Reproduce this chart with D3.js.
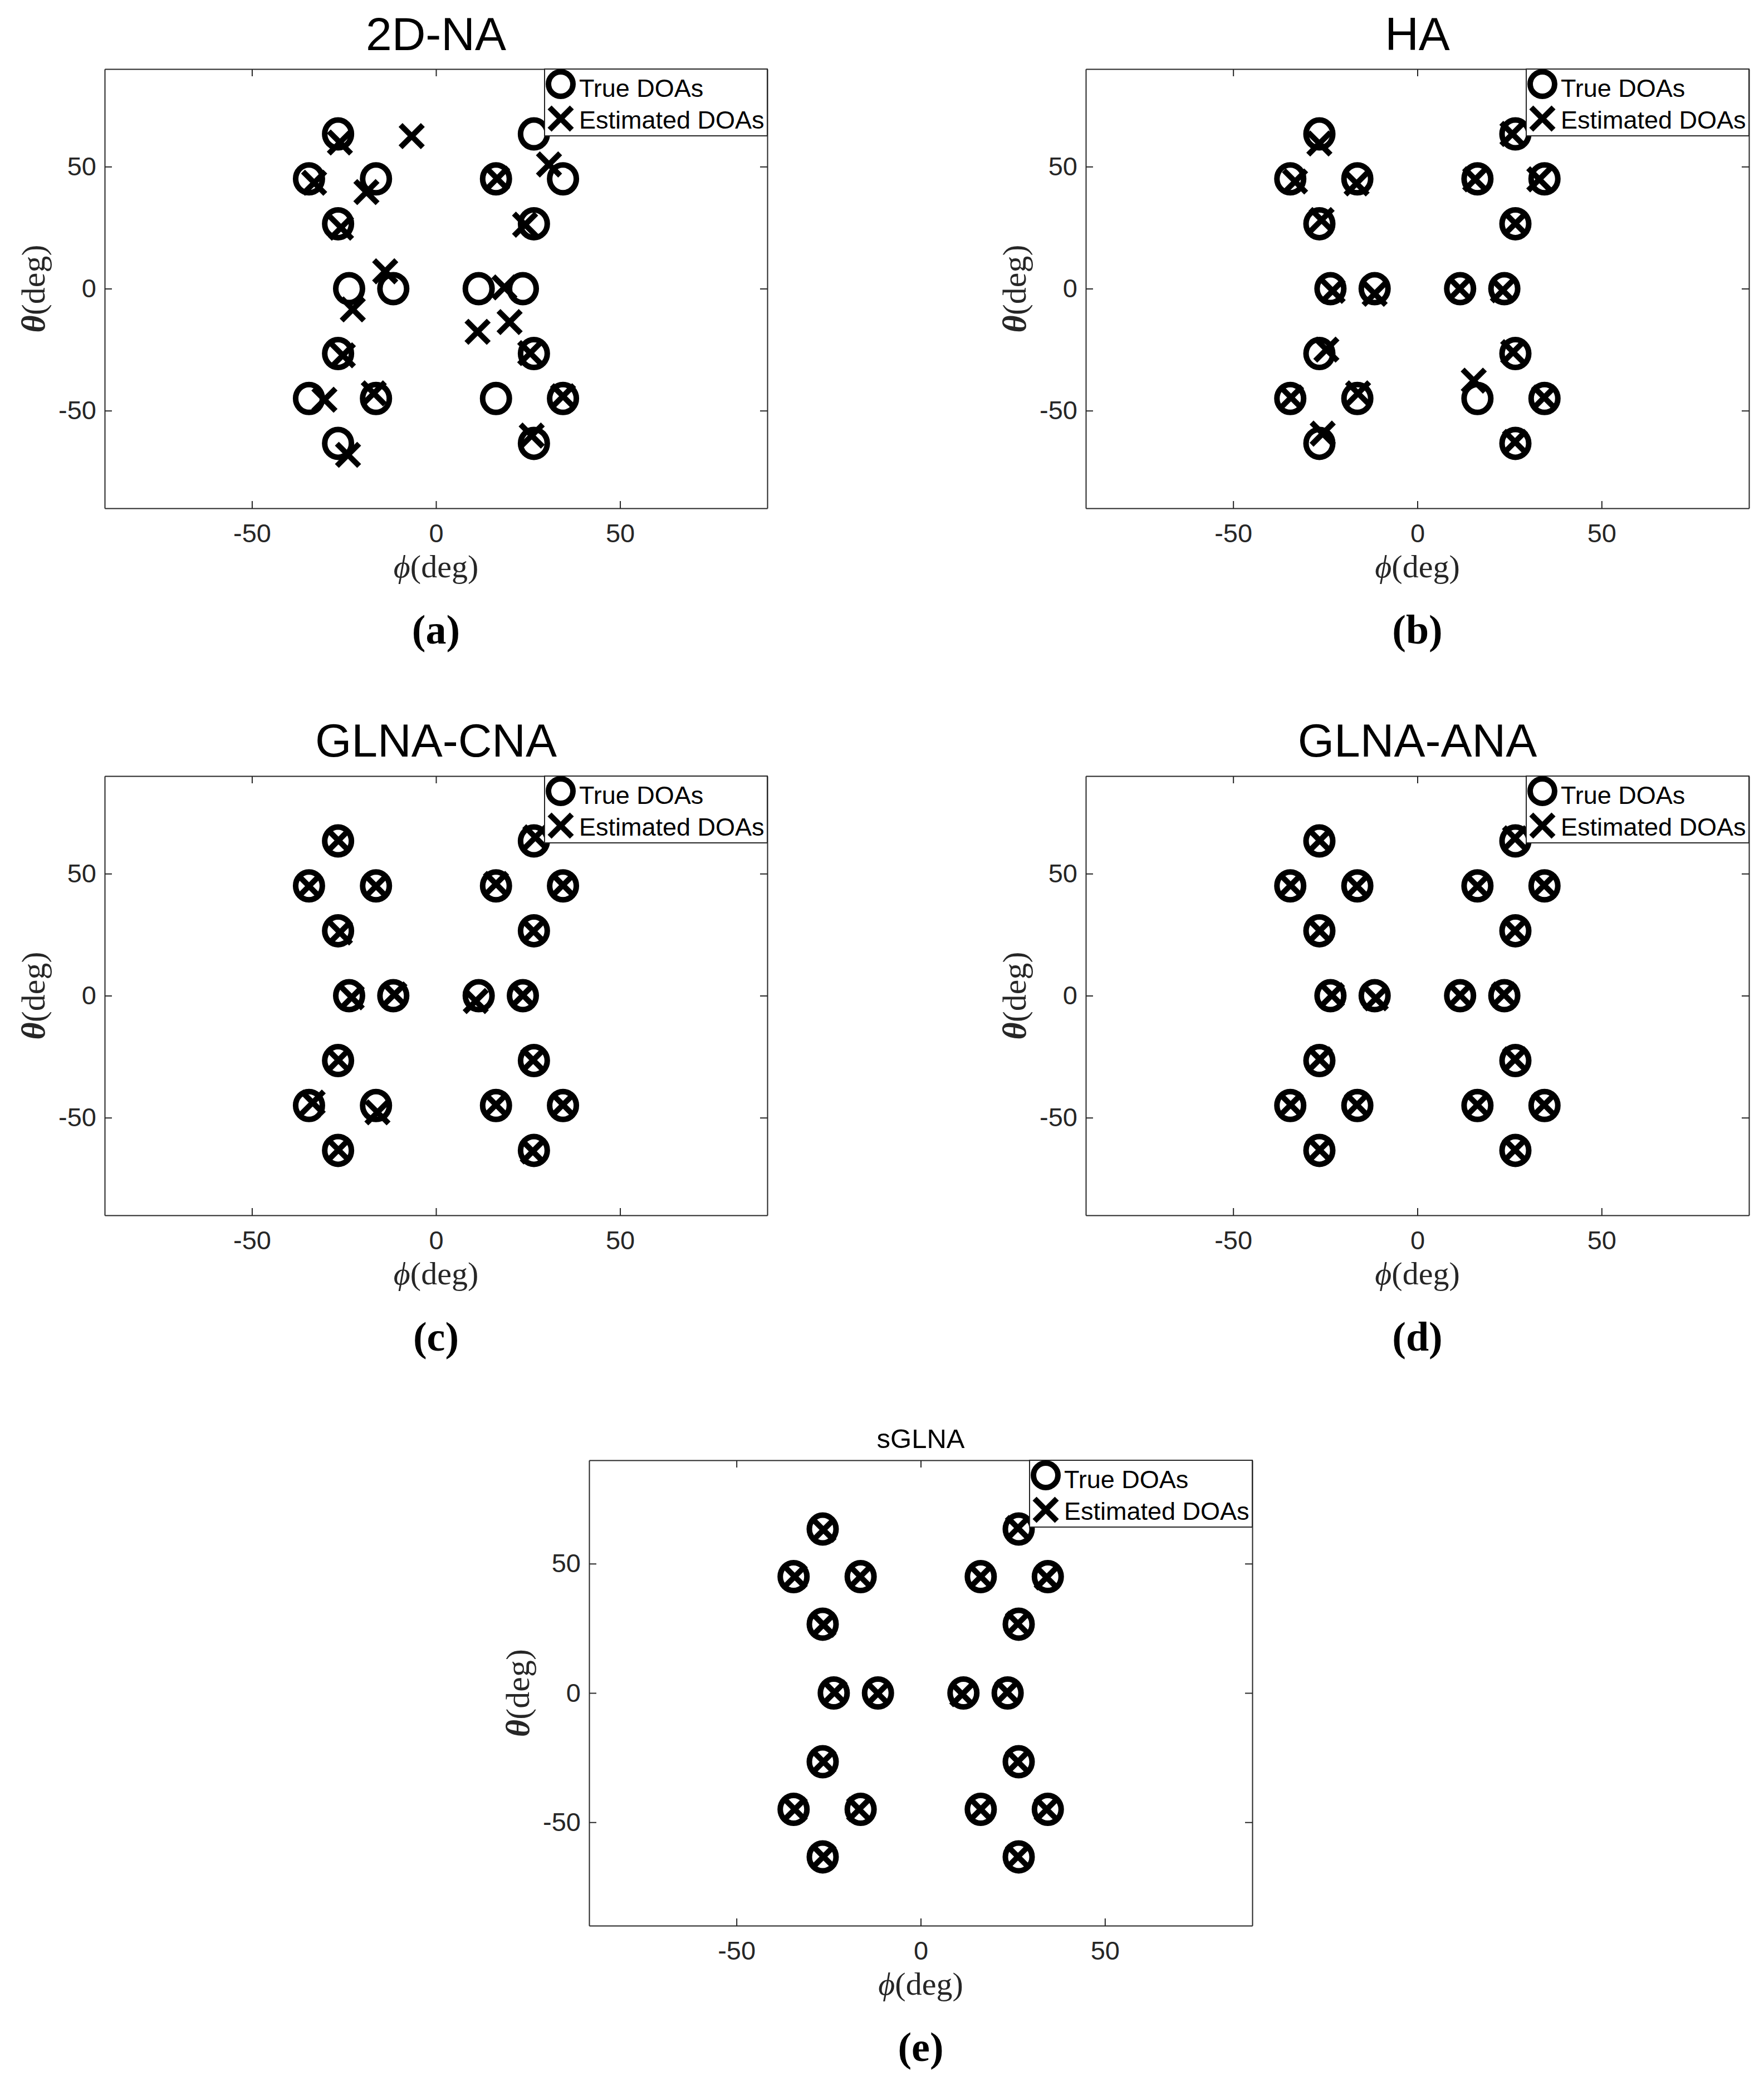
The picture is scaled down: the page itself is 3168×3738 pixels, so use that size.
<!DOCTYPE html>
<html>
<head>
<meta charset="utf-8">
<script src="https://cdn.jsdelivr.net/npm/d3@7"></script>
<style>
body { margin: 0; background: #fff; }
text { font-family: "Liberation Sans", Arial, sans-serif; }
</style>
</head>
<body>
<div id="chart"></div>
<script>
// tick values and labels
var tickVals = [-50, 0, 50];
var panelTitles = ["2D-NA", "HA", "GLNA-CNA", "GLNA-ANA", "sGLNA"];
var panelCaptions = ["(a)", "(b)", "(c)", "(d)", "(e)"];
var legendLabels = ["True DOAs", "Estimated DOAs"];

// true DOAs [phi, theta] in degrees
var trueDOAs = [
  [-26.6, 63.4], [-34.5, 45.0], [-16.3, 45.0], [-26.6, 26.6],
  [-23.6, 0], [-11.6, 0], [11.6, 0], [23.6, 0],
  [26.6, 63.4], [16.3, 45.0], [34.5, 45.0], [26.6, 26.6],
  [-26.6, -26.6], [-34.5, -45.0], [-16.3, -45.0], [-26.6, -63.4],
  [26.6, -26.6], [16.3, -45.0], [34.5, -45.0], [26.6, -63.4]
];

// estimated DOAs per method
var est2DNA = [
  [-26.1, 59.9], [-6.6, 62.5], [-33.1, 43.4], [-18.9, 39.6], [-25.8, 25.0],
  [30.7, 50.9], [16.6, 45.1], [24.2, 26.2], [-13.8, 7.1], [-22.6, -8.5],
  [18.6, 0.5], [20.0, -13.7], [11.3, -17.7], [-25.3, -27.3], [-30.3, -45.5],
  [-16.9, -42.9], [25.6, -26.4], [34.5, -44.1], [26.0, -60.2], [-23.9, -68.1]
];
var estHA = [
  [-26.6, 59.5], [-33.2, 43.9], [-16.5, 43.1], [-26.0, 28.1], [-23.0, -0.9],
  [-11.6, -2.1], [11.5, 0], [23.2, -0.7], [25.8, 63.4], [15.7, 44.8],
  [33.1, 44.8], [26.6, 26.7], [-24.7, -25.0], [-34.3, -44.6], [-16.1, -42.9],
  [-25.7, -59.4], [26.0, -26.0], [15.3, -37.7], [34.4, -44.6], [26.5, -62.8]
];
var estCNA = [
  [-26.5, 63.6], [-34.5, 44.9], [-16.3, 44.9], [-26.1, 25.9], [-22.9, -0.7],
  [-11.3, 0.5], [10.8, -2.2], [23.6, 0.2], [27.0, 64.9], [16.3, 45.8],
  [34.5, 45.3], [26.5, 26.4], [-26.5, -26.4], [-33.5, -43.8], [-15.9, -47.8],
  [-26.5, -63.2], [26.4, -26.4], [16.3, -44.7], [34.5, -44.7], [26.3, -63.8]
];
var estANA = [
  [-26.5, 63.6], [-34.4, 45.3], [-16.4, 44.9], [-26.5, 26.6], [-23.2, 0.2],
  [-11.3, -1.1], [11.6, 0.2], [23.5, 0.5], [26.5, 64.5], [16.3, 44.9],
  [34.4, 45.3], [26.5, 26.6], [-26.5, -26.1], [-34.4, -44.7], [-16.4, -44.7],
  [-26.5, -63.2], [26.5, -26.1], [16.3, -44.7], [34.4, -44.7], [26.5, -63.2]
];
var estSGLNA = [
  [-26.4, 63.1], [-34.2, 45.0], [-16.4, 45.0], [-26.4, 26.4], [-23.4, 0.2],
  [-11.6, -0.2], [11.3, -0.5], [23.5, 0.3], [26.4, 63.8], [16.3, 45.0],
  [34.2, 44.7], [26.4, 26.8], [-26.4, -26.6], [-34.2, -45.0], [-16.7, -45.0],
  [-26.4, -63.3], [26.4, -26.6], [16.3, -45.0], [34.2, -45.0], [26.4, -63.3]
];

var estimates = [est2DNA, estHA, estCNA, estANA, estSGLNA];

// layout of each panel (pixels)
var panels = [
  {left: 188,  top: 124,  w: 1190, h: 789, titleSize: 84, titleGap: 34},
  {left: 1950, top: 124,  w: 1191, h: 789, titleSize: 84, titleGap: 34},
  {left: 188,  top: 1394, w: 1190, h: 789, titleSize: 84, titleGap: 35},
  {left: 1950, top: 1394, w: 1191, h: 789, titleSize: 84, titleGap: 35},
  {left: 1058, top: 2623, w: 1191, h: 836, titleSize: 49, titleGap: 22}
];

var axisColor = "#262626";
var crossPath = "M-20,-20L20,20M-20,20L20,-20";

var svg = d3.select("#chart")
    .append("svg")
    .attr("width", 3168)
    .attr("height", 3738);

function styleAxis(sel) {
  sel.selectAll("path, line").attr("stroke", axisColor).attr("stroke-width", 2);
  sel.selectAll("text")
      .attr("fill", axisColor)
      .style("font-size", "47px")
      .style("font-family", "'Liberation Sans', Arial, sans-serif");
}

panels.forEach(function(p, i) {
  var g = svg.append("g").attr("transform", "translate(" + p.left + "," + p.top + ")");

  var x = d3.scaleLinear().domain([-90, 90]).range([0, p.w]);
  var y = d3.scaleLinear().domain([-90, 90]).range([p.h, 0]);
  var fmt = function(d) { return String(d); };

  g.append("g")
      .attr("transform", "translate(0," + p.h + ")")
      .call(d3.axisBottom(x).tickValues(tickVals).tickFormat(fmt)
          .tickSizeInner(-13).tickSizeOuter(0).tickPadding(28))
      .call(styleAxis);
  g.append("g")
      .call(d3.axisTop(x).tickValues(tickVals).tickFormat("")
          .tickSizeInner(-13).tickSizeOuter(0))
      .call(styleAxis);
  g.append("g")
      .call(d3.axisLeft(y).tickValues(tickVals).tickFormat(fmt)
          .tickSizeInner(-13).tickSizeOuter(0).tickPadding(15))
      .call(styleAxis);
  g.append("g")
      .attr("transform", "translate(" + p.w + ",0)")
      .call(d3.axisRight(y).tickValues(tickVals).tickFormat("")
          .tickSizeInner(-13).tickSizeOuter(0))
      .call(styleAxis);

  // true DOAs
  g.append("g")
      .selectAll("ellipse")
      .data(trueDOAs)
      .join("ellipse")
      .attr("cx", function(d) { return x(d[0]); })
      .attr("cy", function(d) { return y(d[1]); })
      .attr("rx", 24)
      .attr("ry", 25)
      .attr("fill", "none")
      .attr("stroke", "#000")
      .attr("stroke-width", 10);

  // estimated DOAs
  g.append("g")
      .selectAll("path")
      .data(estimates[i])
      .join("path")
      .attr("transform", function(d) { return "translate(" + x(d[0]) + "," + y(d[1]) + ")"; })
      .attr("d", crossPath)
      .attr("fill", "none")
      .attr("stroke", "#000")
      .attr("stroke-width", 10);

  // legend
  var lg = g.append("g").attr("transform", "translate(" + (p.w - 400) + ",0)");
  lg.append("rect")
      .attr("width", 400).attr("height", 120)
      .attr("fill", "#fff").attr("stroke", axisColor).attr("stroke-width", 2);
  lg.append("ellipse")
      .attr("cx", 29).attr("cy", 27).attr("rx", 22).attr("ry", 22)
      .attr("fill", "none").attr("stroke", "#000").attr("stroke-width", 10);
  lg.append("path")
      .attr("transform", "translate(29,89)")
      .attr("d", crossPath)
      .attr("fill", "none").attr("stroke", "#000").attr("stroke-width", 10);
  lg.selectAll("text.leg")
      .data(legendLabels)
      .join("text")
      .attr("class", "leg")
      .attr("x", 62)
      .attr("y", function(d, k) { return k === 0 ? 50 : 107; })
      .style("font-size", "45px")
      .attr("fill", "#000")
      .text(function(d) { return d; });

  // title
  g.append("text")
      .attr("x", p.w / 2)
      .attr("y", -p.titleGap)
      .attr("text-anchor", "middle")
      .style("font-size", p.titleSize + "px")
      .attr("fill", "#000")
      .text(panelTitles[i]);

  // x label
  var xl = g.append("text")
      .attr("x", p.w / 2)
      .attr("y", p.h + 124)
      .attr("text-anchor", "middle")
      .style("font-family", "'Liberation Serif', serif")
      .style("font-size", "58px")
      .attr("fill", axisColor);
  xl.append("tspan").style("font-style", "italic").text("\u03D5");
  xl.append("tspan").text("(deg)");

  // y label
  var yl = g.append("text")
      .attr("transform", "translate(-108," + (p.h / 2) + ") rotate(-90)")
      .attr("text-anchor", "middle")
      .style("font-family", "'Liberation Serif', serif")
      .style("font-size", "60px")
      .attr("fill", axisColor);
  yl.append("tspan").style("font-style", "italic").style("font-weight", "bold").text("\u03B8");
  yl.append("tspan").text("(deg)");

  // caption
  g.append("text")
      .attr("x", p.w / 2)
      .attr("y", p.h + 243)
      .attr("text-anchor", "middle")
      .style("font-family", "'Liberation Serif', serif")
      .style("font-weight", "bold")
      .style("font-size", "74px")
      .attr("fill", "#000")
      .text(panelCaptions[i]);
});
</script>
</body>
</html>
